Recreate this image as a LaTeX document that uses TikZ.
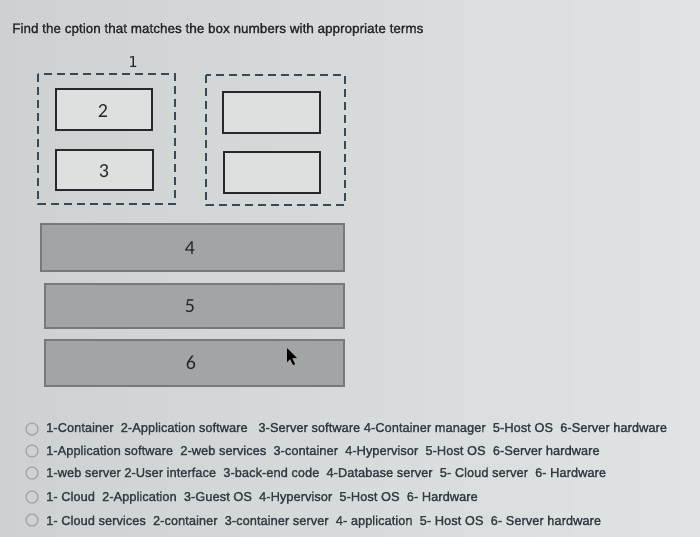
\documentclass[tikz,border=0pt]{standalone}
\usepackage{fontspec}
\setmainfont{Liberation Sans}
\newfontfamily\boldish[FakeBold=1.6]{Liberation Sans}
\newfontfamily\numfont{Carlito}
\newfontfamily\monofont{DejaVu Sans Mono}
\definecolor{bgl}{HTML}{CDD1D1}
\definecolor{bgr}{HTML}{E1E4E4}
\definecolor{bg}{HTML}{D6DAD9}
\definecolor{ink}{HTML}{25292E}
\definecolor{dash}{HTML}{3A4A55}
\definecolor{grayfill}{HTML}{A2A5A5}
\definecolor{grayedge}{HTML}{777A7A}
\definecolor{optink}{HTML}{363B44}
\tikzset{
  dashbox/.style={draw=dash, line width=1.8pt, dash pattern=on 8pt off 5pt},
  whitebox/.style={draw=ink, line width=1.3pt, fill=bg!85!white},
  graybox/.style={draw=grayedge, line width=1.3pt, fill=grayfill},
  numlab/.style={font=\numfont\fontsize{20}{20}\selectfont, text=ink},
  opt/.style={anchor=base west, font=\boldish\fontsize{12.9}{14}\selectfont, text=optink, inner sep=0pt},
  radio/.style={draw=gray!75, line width=1.1pt, circle, minimum size=12pt, inner sep=0pt}
}
\begin{document}
\begin{tikzpicture}[x=1pt,y=-1pt]
\shade[left color=bgl, right color=bgr] (0,0) rectangle (700,536);
\useasboundingbox (0,0) rectangle (700,536);
\node[anchor=base west, inner sep=0pt, font=\boldish\fontsize{13.5}{15}\selectfont, text=ink] (title) at (12,33) {Find the cption that matches the box numbers with appropriate terms};
\node[font=\monofont\fontsize{15}{15}\selectfont, text=ink] (n1) at (133,62) {1};
\draw[dashbox] (38,74) rectangle (175,204);
\draw[dashbox] (206,75) rectangle (345,205);
\draw[whitebox] (56,89) rectangle (152,130);
\node[numlab] (n2) at (103,111) {2};
\draw[whitebox] (56,150) rectangle (153,190);
\node[numlab] (n3) at (104,171) {3};
\draw[whitebox] (223,92) rectangle (320,133);
\draw[whitebox] (224,152) rectangle (320,193);
\draw[graybox] (41,224) rectangle (344,271);
\node[numlab] (n4) at (190,248) {4};
\draw[graybox] (45,284) rectangle (344,328);
\node[numlab] (n5) at (190,306) {5};
\draw[graybox] (45,340) rectangle (344,386);
\node[numlab] (n6) at (191,363) {6};
\fill[black] (287,348) -- (287,362) -- (290,359) -- (293,365) -- (295,364) -- (292,358) -- (297,358) -- cycle;
\node[radio] (r1) at (32,429) {};
\node[radio] (r2) at (32,451) {};
\node[radio] (r3) at (32,473) {};
\node[radio] (r4) at (32,497) {};
\node[radio] (r5) at (32,520) {};
\node[opt] (o1) at (46,432) {1-Container\ \ 2-Application software\ \ \ 3-Server software 4-Container manager\ \ 5-Host OS\ \ 6-Server hardware};
\node[opt] (o2) at (46,455) {1-Application software\ \ 2-web services\ \ 3-container\ \ 4-Hypervisor\ \ 5-Host OS\ \ 6-Server hardware};
\node[opt] (o3) at (46,477) {1-web server 2-User interface\ \ 3-back-end code\ \ 4-Database server\ \ 5- Cloud server\ \ 6- Hardware};
\node[opt] (o4) at (46,501) {1- Cloud\ \ 2-Application\ \ 3-Guest OS\ \ 4-Hypervisor\ \ 5-Host OS\ \ 6- Hardware};
\node[opt] (o5) at (46,525) {1- Cloud services\ \ 2-container\ \ 3-container server\ \ 4- application\ \ 5- Host OS\ \ 6- Server hardware};
\end{tikzpicture}
\end{document}
